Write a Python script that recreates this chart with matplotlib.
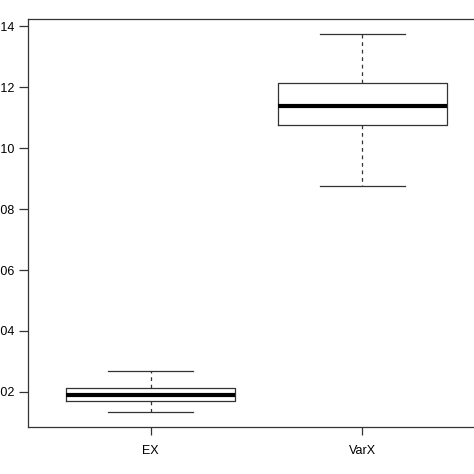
import matplotlib
matplotlib.use("Agg")
import matplotlib.pyplot as plt

categories = ["EX", "VarX"]
whislo = [0.01344, 0.08764]
q1 = [0.01705, 0.10754]
med = [0.01902, 0.11390]
q3 = [0.02131, 0.12130]
whishi = [0.02689, 0.13748]
yticks = [0.02, 0.04, 0.06, 0.08, 0.10, 0.12, 0.14]

plt.rcParams['font.family'] = ['Liberation Sans', 'DejaVu Sans']

fig = plt.figure(figsize=(4.74, 4.74), dpi=100)
W = H = 474.0
left, right, bottom, top = 28.0, 485.0, 427.0, 19.0
ax = fig.add_axes([left / W, (H - bottom) / H, (right - left) / W, (bottom - top) / H])

stats = []
for i, c in enumerate(categories):
    stats.append(dict(label=c, whislo=whislo[i], q1=q1[i], med=med[i],
                      q3=q3[i], whishi=whishi[i], fliers=[]))

lc = '#333333'
ax.bxp(stats, positions=[1, 2], widths=0.8, showfliers=False,
       boxprops=dict(color=lc, linewidth=0.9),
       medianprops=dict(color='black', linewidth=3.0, solid_capstyle='butt'),
       whiskerprops=dict(color=lc, linewidth=0.9, linestyle=(0, (3, 3))),
       capprops=dict(color=lc, linewidth=0.9),
       capwidths=0.4)

n = len(categories)
ext = 0.04 * n
ax.set_xlim(0.5 - ext, n + 0.5 + ext)
lo = min(whislo); hi = max(whishi)
r = hi - lo
ax.set_ylim(lo - 0.04 * r, hi + 0.04 * r)

ax.set_yticks(yticks)
ax.set_yticklabels([f"{v:.2f}" for v in yticks])
ax.set_xticks([1, 2])
ax.set_xticklabels(categories)

for s in ax.spines.values():
    s.set_color(lc)
    s.set_linewidth(0.9)

ax.tick_params(axis='y', length=6.2, width=0.9, color=lc, labelsize=9, pad=3.5)
ax.tick_params(axis='x', length=5.8, width=0.9, color=lc, labelsize=9, pad=7.5)

fig.savefig("out.png", dpi=100)
